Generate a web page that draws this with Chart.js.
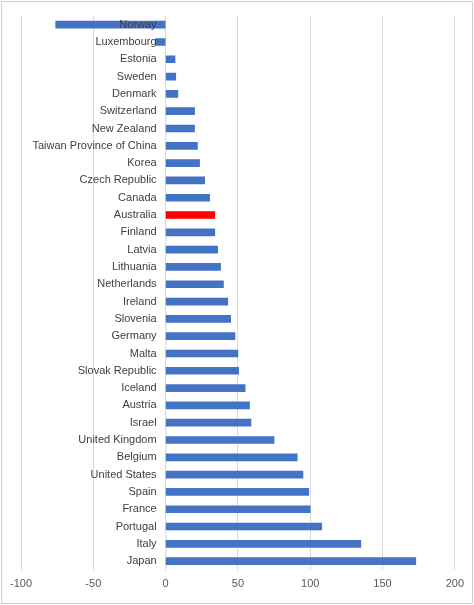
<!DOCTYPE html>
<html>
<head>
<meta charset="utf-8">
<script src="https://cdn.jsdelivr.net/npm/chart.js@4"></script>
<style>
  body { margin: 0; background: #fff; }
  #wrap { position: absolute; left: 1px; top: 1px; width: 470px; height: 601px; border: 1px solid #d0d0d0; }
</style>
</head>
<body>
<div id="wrap"><canvas id="myChart" width="470" height="601"></canvas></div>
<script>
const countries = [
  'Norway', 'Luxembourg', 'Estonia', 'Sweden', 'Denmark', 'Switzerland',
  'New Zealand', 'Taiwan Province of China', 'Korea', 'Czech Republic',
  'Canada', 'Australia', 'Finland', 'Latvia', 'Lithuania', 'Netherlands',
  'Ireland', 'Slovenia', 'Germany', 'Malta', 'Slovak Republic', 'Iceland',
  'Austria', 'Israel', 'United Kingdom', 'Belgium', 'United States', 'Spain',
  'France', 'Portugal', 'Italy', 'Japan'
];
const values = [
  -76, -7, 6.5, 7, 8.5, 20, 20, 22, 23.5, 27,
  30.5, 34, 34, 36, 38, 40, 43, 45, 48, 50,
  50.5, 55, 58, 59, 75, 91, 95, 99, 100, 108,
  135, 173
];
const xTicks = [-100, -50, 0, 50, 100, 150, 200];

// Excel-style category labels, drawn right-aligned next to the zero line
const labelsAtZero = {
  id: 'labelsAtZero',
  afterDatasetsDraw(chart) {
    const ctx = chart.ctx;
    const x0 = chart.scales.x.getPixelForValue(0);
    const y = chart.scales.y;
    ctx.save();
    ctx.font = '11px "Liberation Sans", Arial, sans-serif';
    ctx.fillStyle = '#404040';
    ctx.textAlign = 'right';
    ctx.textBaseline = 'middle';
    countries.forEach((c, i) => ctx.fillText(c, x0 - 9, y.getPixelForValue(i)));
    ctx.restore();
  }
};

const config = {
  type: 'bar',
  data: {
    labels: countries,
    datasets: [{
      data: values,
      backgroundColor: countries.map(c => c === 'Australia' ? '#ff0000' : '#4472c4'),
      barThickness: 7
    }]
  },
  options: {
    indexAxis: 'y',
    responsive: false,
    animation: false,
    layout: { padding: { left: 4, right: 14, top: 14, bottom: 4 } },
    plugins: { legend: { display: false }, tooltip: { enabled: false } },
    scales: {
      x: {
        min: -100, max: 200,
        afterBuildTicks: s => { s.ticks = xTicks.map(v => ({ value: v })); },
        grid: { color: '#d9d9d9', drawTicks: false },
        border: { display: false },
        ticks: { color: '#595959', font: { size: 11, family: '"Liberation Sans", Arial' }, padding: 8 }
      },
      y: {
        offset: true,
        grid: { display: false },
        border: { display: false },
        ticks: { display: false }
      }
    }
  },
  plugins: [labelsAtZero]
};

const myChart = new Chart(document.getElementById('myChart'), config);
</script>
</body>
</html>
